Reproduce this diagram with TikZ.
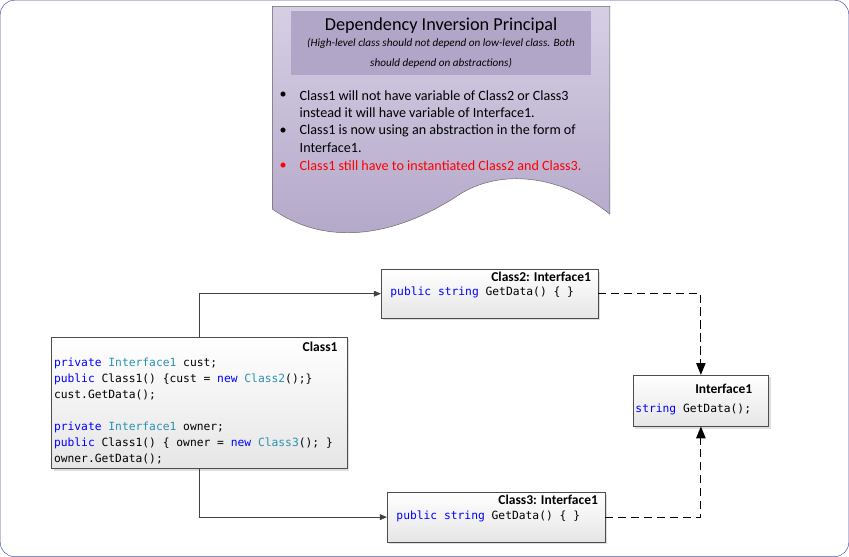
\documentclass[tikz,border=0pt]{standalone}
\usepackage{fontspec}
\setmainfont{Carlito}
\newfontfamily\codefont{DejaVu Sans Mono}
\usetikzlibrary{arrows.meta,shadows}
\definecolor{kw}{HTML}{0000FF}
\definecolor{ty}{HTML}{2B91AF}
\definecolor{docfill}{HTML}{C4BAD8}
\definecolor{docdark}{HTML}{B2A6C8}
\newcommand{\kw}[1]{\textcolor{kw}{#1}}
\newcommand{\ty}[1]{\textcolor{ty}{#1}}
\begin{document}
\begin{tikzpicture}[x=0.03cm,y=-0.03cm,>={Triangle[length=6pt,width=5pt]},
  box/.style={draw=black!70,top color=white,bottom color=black!10,
    drop shadow={opacity=0.25,shadow xshift=2pt,shadow yshift=-2pt},
    anchor=north west,inner sep=0pt},
  head/.style={anchor=north east,font=\bfseries\fontsize{11.5}{13}\selectfont,inner sep=2pt},
  code/.style={anchor=north west,align=left,font=\codefont\fontsize{9.6}{13.6}\selectfont,inner sep=2pt},
  rule/.style={anchor=west,inner sep=0pt,font=\fontsize{12}{14}\selectfont},
  link/.style={draw=black!75,->},
  dep/.style={draw=black,thick,dash pattern=on 7pt off 4pt,
    -{Triangle[length=10pt,width=8pt]}}]
  % frame
  \draw[rounded corners=12pt,draw=blue!50!black!70] (2,2) rectangle (847,556);
  % principle note
  \path[top color=docfill!70,bottom color=docdark,draw=black!60]
    (273,8) -- (609,8) -- (609,215)
    .. controls (560,175) and (500,170) .. (460,195)
    .. controls (400,235) and (330,250) .. (273,210) -- cycle;
  \fill[docdark] (292,13) rectangle (590,76);
  \node (title) at (441,27) {\fontsize{15.5}{18}\selectfont Dependency Inversion Principal};
  \node[font=\itshape\fontsize{9.5}{10}\selectfont,align=center] (sub) at (441,55)
    {(High-level class should not depend on low-level class. Both\\[7pt] should depend on abstractions)};
  \foreach \y/\c in {97/black,132/black,167/red}
    \node[rule,text=\c] at (280,\y) {\textbullet};
  \node[rule] (r1) at (300,97) {Class1 will not have variable of Class2 or Class3};
  \node[rule] (r2) at (300,114) {instead it will have variable of Interface1.};
  \node[rule] (r3) at (300,132) {Class1 is now using an abstraction in the form of};
  \node[rule] (r4) at (300,149) {Interface1.};
  \node[rule,text=red] (r5) at (300,167) {Class1 still have to instantiated Class2 and Class3.};
  % classes
  \node[box,minimum width=6.48cm,minimum height=1.44cm] (class2) at (381,270) {};
  \node[head] at ([xshift=-4pt]class2.north east) {Class2: Interface1};
  \node[code] at (388,285) {\kw{public} \kw{string} GetData() \{ \}};
  \node[box,minimum width=8.82cm,minimum height=3.93cm] (class1) at (53,337) {};
  \node[head] at ([xshift=-6pt,yshift=-2pt]class1.north east) {Class1};
  \node[code] at (53,356) {\kw{private} \ty{Interface1} cust;\\
    \kw{public} Class1() \{cust = \kw{new} \ty{Class2}();\}\\
    cust.GetData();\\[13.6pt]
    \kw{private} \ty{Interface1} owner;\\
    \kw{public} Class1() \{ owner = \kw{new} \ty{Class3}(); \}\\
    owner.GetData();};
  \node[box,minimum width=4.05cm,minimum height=1.53cm] (iface) at (632,375) {};
  \node[head] at ([xshift=-12pt,yshift=-6pt]iface.north east) {Interface1};
  \node[code] at (632,401) {\kw{string} GetData();};
  \node[box,minimum width=6.51cm,minimum height=1.47cm] (class3) at (387,492) {};
  \node[head] at ([xshift=-4pt]class3.north east) {Class3: Interface1};
  \node[code] at (394,508) {\kw{public} \kw{string} GetData() \{ \}};
  % connectors
  \draw[link] (class1.north) |- (class2.west);
  \draw[link] (class1.south) |- (class3.west);
  \draw[dep] (class2.east) -| (iface.north);
  \draw[dep] (class3.east) -| (iface.south);
\end{tikzpicture}
\end{document}
